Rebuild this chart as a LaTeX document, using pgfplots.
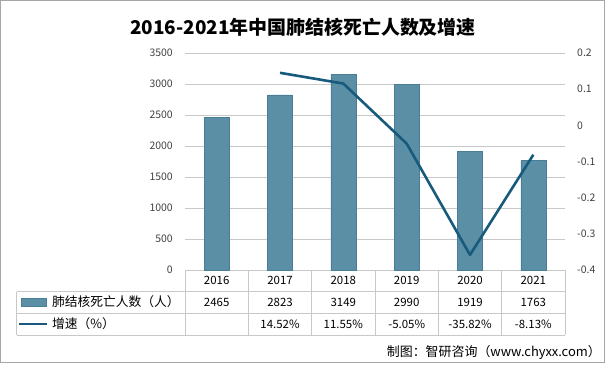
\documentclass[border=0pt]{standalone}
\usepackage{fontspec}
\setmainfont{Noto Sans CJK SC}
\usepackage{pgfplots}
\pgfplotsset{compat=1.18}
\definecolor{barblue}{HTML}{5B8FA6}
\definecolor{bardark}{HTML}{4A7D96}
\definecolor{lineblue}{HTML}{175A7C}
\definecolor{gridgray}{HTML}{C8C8C8}
\definecolor{txt}{HTML}{404040}
\begin{document}
\begin{tikzpicture}[x=1bp,y=1bp]
\path[use as bounding box] (0,0) rectangle (606,364);
\draw[gray!70, line width=1bp] (0.5,1.5) rectangle (604.5,363.5);
% title
\node[font=\bfseries\fontsize{19}{22}\selectfont, text=black] at (303,337) {2016-2021年中国肺结核死亡人数及增速};
% bars
\begin{axis}[
  at={(185bp,94bp)}, anchor=south west, scale only axis,
  width=380bp, height=217bp,
  xmin=-0.5, xmax=5.5, ymin=0, ymax=3500,
  xtick={0,1,2,3,4,5}, xticklabels={2016,2017,2018,2019,2020,2021},
  ytick={0,500,1000,1500,2000,2500,3000,3500},
  ymajorgrids, grid style={gridgray, line width=0.8bp},
  axis line style={draw=none},
  major tick length=0pt,
  /pgf/number format/assume math mode=true,
  /pgf/number format/1000 sep={},
  tick label style={font=\fontsize{10.5}{12}\selectfont, text=txt, inner sep=0pt},
  yticklabel style={xshift=-12bp},
  xticklabel style={yshift=-6bp, text=black, font=\fontsize{11.5}{13}\selectfont},
  clip=false,
]
\addplot[ybar, bar width=25bp, fill=barblue, draw=bardark, line width=0.6bp]
  coordinates {(0,2465) (1,2823) (2,3149) (3,2990) (4,1919) (5,1763)};
\end{axis}
% line
\begin{axis}[
  at={(185bp,94bp)}, anchor=south west, scale only axis,
  width=380bp, height=217bp,
  xmin=-0.5, xmax=5.5, ymin=-0.4, ymax=0.2,
  axis y line*=right, axis x line=none,
  ytick={-0.4,-0.3,-0.2,-0.1,0,0.1,0.2},
  axis line style={draw=none},
  major tick length=0pt,
  /pgf/number format/assume math mode=true,
  /pgf/number format/fixed, /pgf/number format/precision=1,
  tick label style={font=\fontsize{10.5}{12}\selectfont, text=txt, inner sep=0pt},
  yticklabel style={xshift=12bp, anchor=west},
  clip=false,
]
\addplot[lineblue, line width=2.6bp, line join=round]
  coordinates {(1,0.1452) (2,0.1155) (3,-0.0505) (4,-0.3582) (5,-0.0813)};
\end{axis}
% table grid
\begin{scope}[gridgray, line width=0.8bp]
\foreach \k in {0,...,6} { \draw (185+63.333*\k,94) -- (185+63.333*\k,28.7); }
\draw (16.7,72.3) -- (16.7,28.7);
\draw (16.7,72.3) -- (565,72.3);
\draw (16.7,50.7) -- (565,50.7);
\draw (16.7,28.7) -- (565,28.7);
\end{scope}
% legend keys
\filldraw[fill=barblue, draw=bardark, line width=0.6bp] (21,58) rectangle (46,66);
\draw[lineblue, line width=2.6bp] (19,40) -- (47,40);
\node[anchor=west, inner sep=0pt, font=\fontsize{12.8}{14}\selectfont] at (52,62) {肺结核死亡人数（人）};
\node[anchor=west, inner sep=0pt, font=\fontsize{12.8}{14}\selectfont] at (52,40) {增速（\%）};
% table values
\begin{scope}[font=\fontsize{11.5}{13}\selectfont]
\node at (216.7,61.5) {2465};
\node at (280.0,61.5) {2823};
\node at (343.3,61.5) {3149};
\node at (406.7,61.5) {2990};
\node at (470.0,61.5) {1919};
\node at (533.3,61.5) {1763};
\node at (280.0,39.7) {14.52\%};
\node at (343.3,39.7) {11.55\%};
\node at (406.7,39.7) {-5.05\%};
\node at (470.0,39.7) {-35.82\%};
\node at (533.3,39.7) {-8.13\%};
\end{scope}
% source
\node[anchor=east, inner sep=0pt, font=\fontsize{13}{15}\selectfont] at (601,12) {制图：智研咨询（www.chyxx.com）};
\end{tikzpicture}
\end{document}
